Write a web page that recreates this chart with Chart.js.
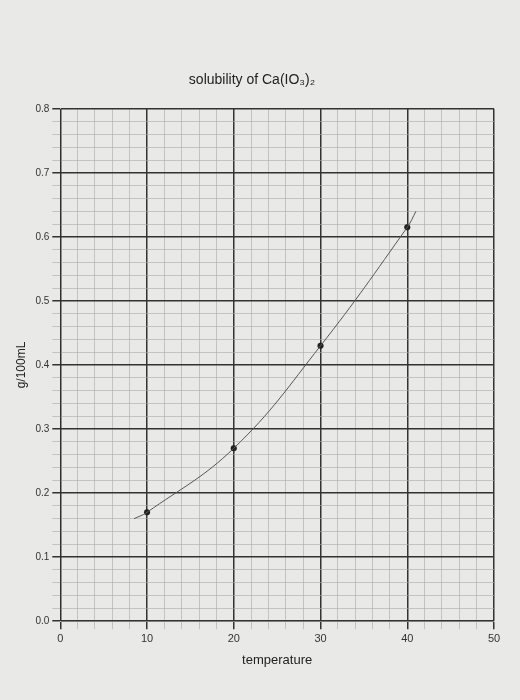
<!DOCTYPE html>
<html>
<head>
<meta charset="UTF-8" />
<script src="https://cdn.jsdelivr.net/npm/chart.js"></script>
<style>
  body { margin: 0; background: #e9e9e7; }
</style>
</head>
<body>
<canvas id="solChart" width="520" height="700"></canvas>
<script>
  // measured points (temperature, g/100mL)
  const temps = [10, 20, 30, 40];
  const solubility = [0.17, 0.27, 0.43, 0.615];
  // hand-drawn fit curve
  const curveTemps = [8.5, 10, 20, 30, 40, 41];
  const curveVals = [0.16, 0.17, 0.27, 0.43, 0.615, 0.64];

  const ctx = document.getElementById("solChart").getContext("2d");
  new Chart(ctx, {
    type: "scatter",
    data: {
      datasets: [
        {
          data: curveTemps.map((t, i) => ({ x: t, y: curveVals[i] })),
          showLine: true,
          borderColor: "#555",
          borderWidth: 1,
          tension: 0.4,
          pointRadius: 0,
        },
        {
          data: temps.map((t, i) => ({ x: t, y: solubility[i] })),
          backgroundColor: "#222",
          pointRadius: 3,
        },
      ],
    },
    options: {
      animation: false,
      responsive: false,
      layout: { padding: { top: 72, right: 26, bottom: 28, left: 10 } },
      plugins: {
        legend: { display: false },
        title: {
          display: true,
          text: "solubility of Ca(IO₃)₂",
          color: "#222",
          font: { family: "Liberation Sans", size: 14, weight: "normal" },
          padding: { bottom: 20 },
        },
        tooltip: { enabled: false },
      },
      scales: {
        x: {
          min: 0, max: 50,
          ticks: {
            stepSize: 2,
            autoSkip: false,
            maxRotation: 0,
            color: "#333",
            font: { family: "Liberation Sans", size: 11 },
            callback: (v) => (v % 10 === 0 ? v : ""),
          },
          grid: {
            color: (c) => (c.tick && c.tick.value % 10 === 0 ? "#333" : "#aaa"),
            lineWidth: (c) => (c.tick && c.tick.value % 10 === 0 ? 1.5 : 0.6),
          },
          title: {
            display: true, text: "temperature", color: "#222",
            font: { family: "Liberation Sans", size: 13 },
          },
        },
        y: {
          min: 0, max: 0.8,
          ticks: {
            stepSize: 0.02,
            autoSkip: false,
            color: "#333",
            font: { family: "Liberation Sans", size: 10 },
            callback: (v) => {
              const r = Math.round(v * 100);
              return r % 10 === 0 ? (r / 100).toFixed(1) : "";
            },
          },
          grid: {
            color: (c) => (c.tick && Math.round(c.tick.value * 100) % 10 === 0 ? "#333" : "#aaa"),
            lineWidth: (c) => (c.tick && Math.round(c.tick.value * 100) % 10 === 0 ? 1.5 : 0.6),
          },
          title: {
            display: true, text: "g/100mL", color: "#222",
            font: { family: "Liberation Sans", size: 12 },
          },
        },
      },
    },
  });
</script>
</body>
</html>
